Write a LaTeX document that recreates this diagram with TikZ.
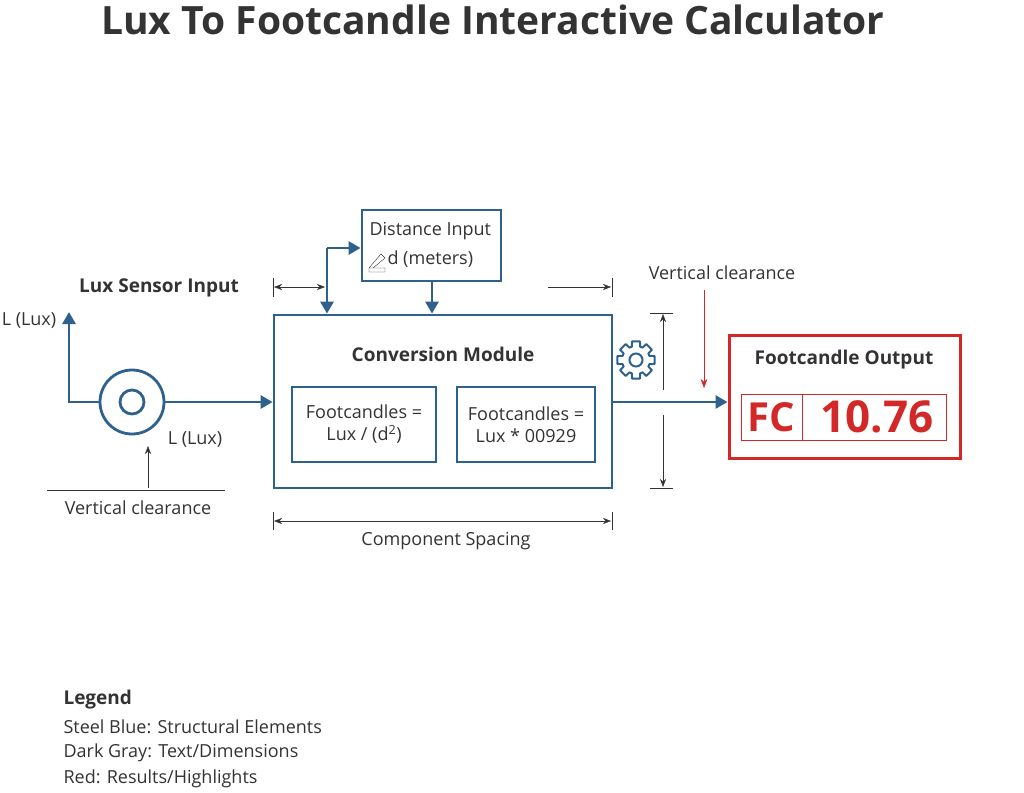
\documentclass[tikz,border=0pt]{standalone}
\usepackage{fontspec}
\setmainfont{Open Sans}
\usetikzlibrary{arrows.meta,calc,positioning}
\definecolor{steel}{RGB}{46,98,140}
\definecolor{dgray}{RGB}{51,51,51}
\definecolor{hired}{RGB}{211,40,40}
\tikzset{
  box/.style={draw=steel,line width=2.8pt,inner sep=0pt},
  flow/.style={draw=steel,line width=2.8pt,-{Triangle[length=12pt,width=13pt]}},
  dim/.style={draw=dgray,thin,{Stealth[length=8pt]}-{Stealth[length=8pt]}},
  txt/.style={text=dgray,font=\fontsize{18}{22}\selectfont},
  hd/.style={text=dgray,font=\fontsize{19}{22}\selectfont\bfseries}
}
\begin{document}
\begin{tikzpicture}[x=1pt,y=-1pt]
\useasboundingbox[fill=white] (0,0) rectangle (1024,792);
\node[text=dgray,font=\fontsize{39}{44}\selectfont\bfseries] (title) at (493,20) {Lux To Footcandle Interactive Calculator};

% blocks
\node[box,minimum width=139,minimum height=71] (dist) at (431.5,245.5) {};
\node[txt,anchor=west] (distT) at (366,231) {Distance Input};
\node[txt,anchor=west] (distD) at (384,259) {d (meters)};
\draw[dgray,thin] (369,268) rectangle (385,272) (369,268) -- (381,254) -- (385,258) -- (373,268);
\node[box,minimum width=338,minimum height=173] (conv) at (443,401.5) {};
\node[hd] (convT) at (443,354) {Conversion Module};
\node[box,minimum width=144,minimum height=75,align=center,txt] (eqA) at (364,424.5) {Footcandles =\\Lux / (d\textsuperscript{2})};
\node[box,minimum width=138,minimum height=75,align=center,txt] (eqB) at (526,424.5) {Footcandles =\\Lux * 00929};

% sensor
\node[draw=steel,line width=2.8pt,circle,minimum size=64] (sens) at (132,402) {};
\node[draw=steel,line width=2.8pt,circle,minimum size=24] (sensIn) at (132,402) {};
\node[hd] (sensT) at (159,288) {Lux Sensor Input};
\coordinate (luxUp) at (69,312);
\node[txt] (luxL) at (29,320) {L (Lux)};
\draw[flow] (sens.west) -| (luxUp);
\draw[flow] (sens.east) -- (conv.west |- sens.east);
\node[txt] (luxB) at (195,439) {L (Lux)};
\coordinate (clrA) at (47,490);
\coordinate (clrB) at (225,490);
\draw[dgray,thin] (clrA) -- (clrB);
\draw[dgray,thin,-{Stealth[length=8pt]}] (148,488) -- (148,446);
\node[txt] (clrT) at (138,508) {Vertical clearance};

% distance links
\coordinate (jn) at (327,248);
\draw[flow] (jn) -- (dist.west |- jn);
\draw[flow] (jn) -- (conv.north -| jn);
\draw[flow] (dist.south -| 432,0) -- (conv.north -| 432,0);
\draw[dgray,thin] (273,278) -- (273,297) (612,278) -- (612,297);
\draw[dgray,thin,{Stealth[length=8pt]}-{Stealth[length=8pt]}] (274,287) -- (325,287);
\draw[dgray,thin,-{Stealth[length=8pt]}] (548,287) -- (611,287);

% gear
\coordinate (gear) at (636,360);
\draw[steel,line width=2pt,line join=round] ($(gear)+(-12:19)$)
  \foreach \a in {0,45,...,315}{ -- ($(gear)+(\a-12:19)$) -- ($(gear)+(\a+12:19)$) -- ($(gear)+(\a+17:14)$) -- ($(gear)+(\a+28:14)$) } -- cycle;
\draw[steel,line width=2pt] (gear) circle (6.5);

% vertical dimension
\draw[dgray,thin] (650,313) -- (673,313) (650,488) -- (673,488);
\draw[dgray,thin,-{Stealth[length=8pt]}] (663,390) -- (663,314);
\draw[dgray,thin,-{Stealth[length=8pt]}] (663,415) -- (663,487);

% output
\node[draw=hired,line width=3pt,minimum width=231,minimum height=123] (out) at (844.5,396.5) {};
\draw[flow] (conv.east |- sens.east) -- (out.west |- sens.east);
\node[txt,font=\fontsize{19}{22}\selectfont\bfseries] (outT) at (844,360) {Footcandle Output};
\node[draw=hired,thin,minimum width=205,minimum height=46] (disp) at (843.5,417) {};
\draw[hired,thin] (802,394) -- (802,440);
\node[text=hired,font=\fontsize{40}{42}\selectfont\bfseries] (fc) at (771,417) {FC};
\node[text=hired,font=\fontsize{44}{46}\selectfont\bfseries] (val) at (877,417) {10.76};
\node[txt] (clrR) at (722,273) {Vertical clearance};
\draw[hired,thin,-{Stealth[length=9pt]}] (704,290) -- (704,388);

% spacing
\draw[dgray,thin] (273,512) -- (273,530) (612,512) -- (612,530);
\draw[dim] (274,521) -- (611,521);
\node[txt] (spT) at (446,541) {Component Spacing};

% legend
\node[hd,anchor=west] (lg) at (60,700) {Legend};
\node[txt,anchor=west] (lg1) at (60,727) {Steel Blue: Structural Elements};
\node[txt,anchor=west] (lg2) at (60,753) {Dark Gray: Text/Dimensions};
\node[txt,anchor=west] (lg3) at (60,779) {Red: Results/Highlights};
\end{tikzpicture}
\end{document}
